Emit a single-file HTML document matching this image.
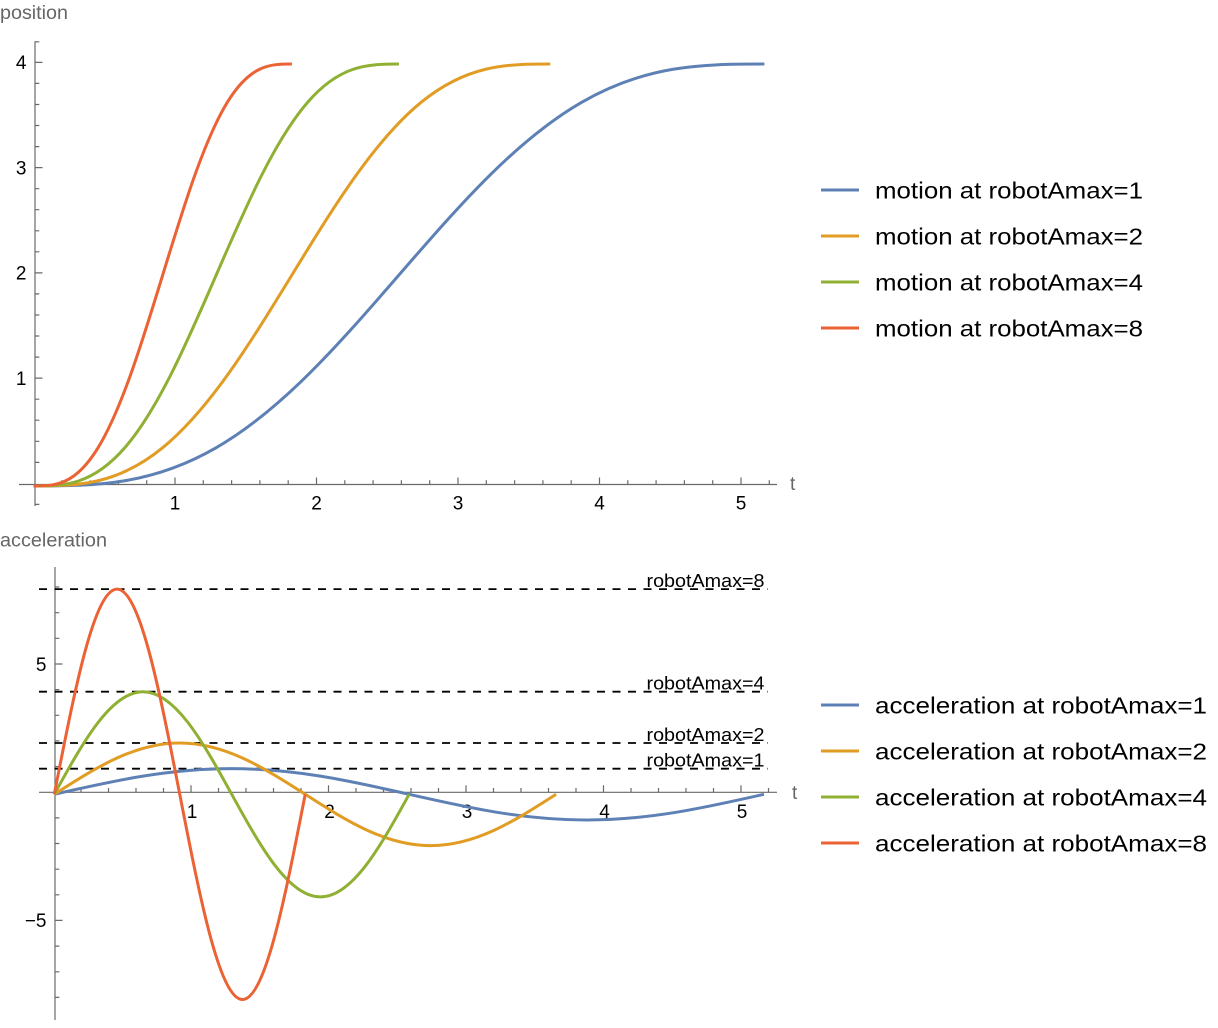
<!DOCTYPE html>
<html><head><meta charset="utf-8"><style>
html,body{margin:0;padding:0;background:#fff;}
svg{display:block;}
text{font-family:"Liberation Sans",Arial,sans-serif;}
.c{vector-effect:non-scaling-stroke;}
</style></head><body>
<svg width="1218" height="1028" viewBox="0 0 1218 1028" xmlns="http://www.w3.org/2000/svg">
<defs>
<path id="pos" class="c" vector-effect="non-scaling-stroke" d="M0,0 C41.667,0 83.333,-0.256 125,-12.46 C166.667,-24.664 208.333,-49.178 250,-90.845 C291.667,-132.512 333.333,-191.33 375,-262.46 C416.667,-333.59 458.333,-416.667 500,-500 C541.667,-583.333 583.333,-666.41 625,-737.54 C666.667,-808.67 708.333,-867.488 750,-909.155 C791.667,-950.822 833.333,-975.336 875,-987.54 C916.667,-999.744 958.333,-1000 1000,-1000"/>
<path id="acc" class="c" vector-effect="non-scaling-stroke" d="M0,0 C41.667,-261.799 83.333,-521.987 125,-707.107 C166.667,-892.227 208.333,-1000 250,-1000 C291.667,-1000 333.333,-892.227 375,-707.107 C416.667,-521.987 458.333,-261.799 500,0 C541.667,261.799 583.333,521.987 625,707.107 C666.667,892.227 708.333,1000 750,1000 C791.667,1000 833.333,892.227 875,707.107 C916.667,521.987 958.333,261.799 1000,0"/>
</defs>

<!-- ===== TOP PLOT ===== -->
<text x="0" y="19" font-size="19" fill="#666" textLength="68" lengthAdjust="spacingAndGlyphs">position</text>
<g stroke="#6a6a6a" stroke-width="1.2" fill="none">
<path d="M19,484.5H777 M35,41.3V506"/>
<path d="M175,484.5v-7 M316.5,484.5v-7 M458,484.5v-7 M599.5,484.5v-7 M741,484.5v-7"/>
<path d="M61.8,484.5v-4.3 M90.1,484.5v-4.3 M118.4,484.5v-4.3 M146.7,484.5v-4.3 M203.3,484.5v-4.3 M231.6,484.5v-4.3 M259.9,484.5v-4.3 M288.2,484.5v-4.3 M344.8,484.5v-4.3 M373.1,484.5v-4.3 M401.4,484.5v-4.3 M429.7,484.5v-4.3 M486.3,484.5v-4.3 M514.6,484.5v-4.3 M542.9,484.5v-4.3 M571.2,484.5v-4.3 M627.8,484.5v-4.3 M656.1,484.5v-4.3 M684.4,484.5v-4.3 M712.7,484.5v-4.3 M769.3,484.5v-4.3"/>
<path d="M35,378.1h7.5 M35,272.9h7.5 M35,167.6h7.5 M35,62.4h7.5"/>
<path d="M35,504.4h4.3 M35,462.4h4.3 M35,441.3h4.3 M35,420.2h4.3 M35,399.2h4.3 M35,357.1h4.3 M35,336h4.3 M35,315h4.3 M35,293.9h4.3 M35,251.8h4.3 M35,230.8h4.3 M35,209.7h4.3 M35,188.7h4.3 M35,146.6h4.3 M35,125.5h4.3 M35,104.5h4.3 M35,83.4h4.3 M35,41.8h4.3"/>
</g>
<g font-size="19" fill="#000" text-anchor="middle">
<text x="175" y="509.5">1</text><text x="316.5" y="509.5">2</text><text x="458" y="509.5">3</text><text x="599.5" y="509.5">4</text><text x="741" y="509.5">5</text>
</g>
<g font-size="19" fill="#000" text-anchor="end">
<text x="26.5" y="384.9">1</text><text x="26.5" y="279.7">2</text><text x="26.5" y="174.4">3</text><text x="26.5" y="69.2">4</text>
</g>
<text x="790" y="490" font-size="19" fill="#666">t</text>

<g fill="none" stroke-width="3">
<use href="#pos" transform="translate(33.5,486) scale(0.73087,0.422)" stroke="#5E81B5"/>
<use href="#pos" transform="translate(33.5,486) scale(0.51681,0.422)" stroke="#E19C24"/>
<use href="#pos" transform="translate(33.5,486) scale(0.36544,0.422)" stroke="#8FB032"/>
<use href="#pos" transform="translate(33.5,486) scale(0.25841,0.422)" stroke="#EB6235"/>
</g>

<!-- top legend -->
<g stroke-width="3">
<line x1="821" y1="190" x2="859" y2="190" stroke="#5E81B5"/>
<line x1="821" y1="236" x2="859" y2="236" stroke="#E19C24"/>
<line x1="821" y1="282" x2="859" y2="282" stroke="#8FB032"/>
<line x1="821" y1="328" x2="859" y2="328" stroke="#EB6235"/>
</g>
<g font-size="23" fill="#000">
<text x="875" y="198.3" textLength="268" lengthAdjust="spacingAndGlyphs">motion at robotAmax=1</text>
<text x="875" y="244.3" textLength="268" lengthAdjust="spacingAndGlyphs">motion at robotAmax=2</text>
<text x="875" y="290.3" textLength="268" lengthAdjust="spacingAndGlyphs">motion at robotAmax=4</text>
<text x="875" y="336.3" textLength="268" lengthAdjust="spacingAndGlyphs">motion at robotAmax=8</text>
</g>

<!-- ===== BOTTOM PLOT ===== -->
<text x="0" y="546.5" font-size="19" fill="#666" textLength="107" lengthAdjust="spacingAndGlyphs">acceleration</text>
<g stroke="#6a6a6a" stroke-width="1.2" fill="none">
<path d="M39,792.3H777 M55,567V1020"/>
<path d="M191,792.3v-7 M328.5,792.3v-7 M466,792.3v-7 M603.5,792.3v-7 M741,792.3v-7"/>
<path d="M81,792.3v-4.3 M108.5,792.3v-4.3 M136,792.3v-4.3 M163.5,792.3v-4.3 M218.5,792.3v-4.3 M246,792.3v-4.3 M273.5,792.3v-4.3 M301,792.3v-4.3 M356,792.3v-4.3 M383.5,792.3v-4.3 M411,792.3v-4.3 M438.5,792.3v-4.3 M493.5,792.3v-4.3 M521,792.3v-4.3 M548.5,792.3v-4.3 M576,792.3v-4.3 M631,792.3v-4.3 M658.5,792.3v-4.3 M686,792.3v-4.3 M713.5,792.3v-4.3 M768.5,792.3v-4.3"/>
<path d="M55,664h7.5 M55,920.4h7.5"/>
<path d="M55,587h4.3 M55,612.7h4.3 M55,638.3h4.3 M55,689.6h4.3 M55,715.3h4.3 M55,740.9h4.3 M55,766.6h4.3 M55,817.9h4.3 M55,843.5h4.3 M55,869.2h4.3 M55,894.8h4.3 M55,946.1h4.3 M55,971.8h4.3 M55,997.4h4.3"/>
</g>
<g font-size="19" fill="#000" text-anchor="middle">
<text x="192" y="818">1</text><text x="329.5" y="818">2</text><text x="467" y="818">3</text><text x="604.5" y="818">4</text><text x="742" y="818">5</text>
</g>
<g font-size="19" fill="#000" text-anchor="end">
<text x="46.5" y="670.8">5</text><text x="46.5" y="927.2">−5</text>
</g>
<text x="792" y="799" font-size="19" fill="#666">t</text>

<!-- dashed reference lines -->
<g stroke="#000" stroke-width="1.8" stroke-dasharray="8 7.5" fill="none">
<line x1="39" y1="589.1" x2="768" y2="589.1"/>
<line x1="39" y1="691.7" x2="768" y2="691.7"/>
<line x1="39" y1="743" x2="768" y2="743"/>
<line x1="39" y1="768.7" x2="768" y2="768.7"/>
</g>
<g font-size="18" fill="#000">
<text x="646.5" y="587" textLength="118" lengthAdjust="spacingAndGlyphs">robotAmax=8</text>
<text x="646.5" y="689.6" textLength="118" lengthAdjust="spacingAndGlyphs">robotAmax=4</text>
<text x="646.5" y="740.9" textLength="118" lengthAdjust="spacingAndGlyphs">robotAmax=2</text>
<text x="646.5" y="766.6" textLength="118" lengthAdjust="spacingAndGlyphs">robotAmax=1</text>
</g>

<g fill="none" stroke-width="3">
<use href="#acc" transform="translate(54.3,794.3) scale(0.70967,0.02565)" stroke="#5E81B5"/>
<use href="#acc" transform="translate(54.3,794.3) scale(0.50182,0.0513)" stroke="#E19C24"/>
<use href="#acc" transform="translate(54.3,794.3) scale(0.35484,0.1026)" stroke="#8FB032"/>
<use href="#acc" transform="translate(54.3,794.3) scale(0.25091,0.2052)" stroke="#EB6235"/>
</g>

<!-- bottom legend -->
<g stroke-width="3">
<line x1="821" y1="705" x2="859" y2="705" stroke="#5E81B5"/>
<line x1="821" y1="751" x2="859" y2="751" stroke="#E19C24"/>
<line x1="821" y1="797" x2="859" y2="797" stroke="#8FB032"/>
<line x1="821" y1="843" x2="859" y2="843" stroke="#EB6235"/>
</g>
<g font-size="23" fill="#000">
<text x="875" y="713.3" textLength="332" lengthAdjust="spacingAndGlyphs">acceleration at robotAmax=1</text>
<text x="875" y="759.3" textLength="332" lengthAdjust="spacingAndGlyphs">acceleration at robotAmax=2</text>
<text x="875" y="805.3" textLength="332" lengthAdjust="spacingAndGlyphs">acceleration at robotAmax=4</text>
<text x="875" y="851.3" textLength="332" lengthAdjust="spacingAndGlyphs">acceleration at robotAmax=8</text>
</g>
</svg>
</body></html>
